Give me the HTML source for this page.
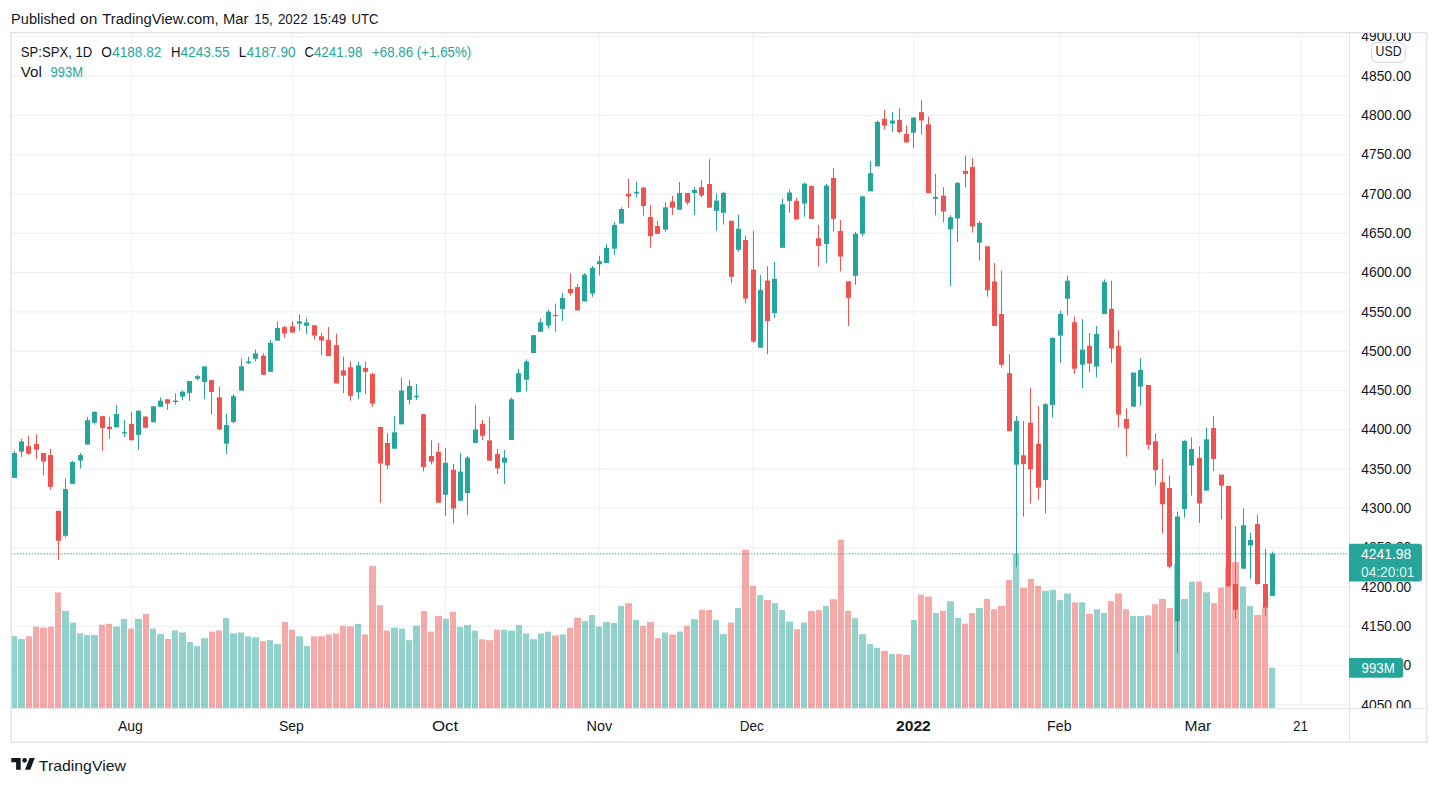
<!DOCTYPE html>
<html><head><meta charset="utf-8"><style>
html,body{margin:0;padding:0;background:#fff;width:1440px;height:786px;overflow:hidden}
body{font-family:"Liberation Sans",sans-serif;color:#131722}
svg{position:absolute;left:0;top:0;font-family:"Liberation Sans",sans-serif}
</style></head><body>
<svg width="1440" height="786" viewBox="0 0 1440 786">
<defs><clipPath id="pane"><rect x="11" y="33" width="1338" height="675"/></clipPath><clipPath id="axis"><rect x="1350" y="33" width="76" height="675"/></clipPath></defs><g clip-path="url(#pane)"><rect x="11" y="704.2" width="1338" height="1.4" fill="#f1f2f4"/><rect x="11" y="664.9" width="1338" height="1.4" fill="#f1f2f4"/><rect x="11" y="625.6" width="1338" height="1.4" fill="#f1f2f4"/><rect x="11" y="586.3" width="1338" height="1.4" fill="#f1f2f4"/><rect x="11" y="547" width="1338" height="1.4" fill="#f1f2f4"/><rect x="11" y="507.7" width="1338" height="1.4" fill="#f1f2f4"/><rect x="11" y="468.4" width="1338" height="1.4" fill="#f1f2f4"/><rect x="11" y="429.1" width="1338" height="1.4" fill="#f1f2f4"/><rect x="11" y="389.8" width="1338" height="1.4" fill="#f1f2f4"/><rect x="11" y="350.5" width="1338" height="1.4" fill="#f1f2f4"/><rect x="11" y="311.2" width="1338" height="1.4" fill="#f1f2f4"/><rect x="11" y="271.9" width="1338" height="1.4" fill="#f1f2f4"/><rect x="11" y="232.6" width="1338" height="1.4" fill="#f1f2f4"/><rect x="11" y="193.3" width="1338" height="1.4" fill="#f1f2f4"/><rect x="11" y="154" width="1338" height="1.4" fill="#f1f2f4"/><rect x="11" y="114.7" width="1338" height="1.4" fill="#f1f2f4"/><rect x="11" y="75.4" width="1338" height="1.4" fill="#f1f2f4"/><rect x="11" y="36.1" width="1338" height="1.4" fill="#f1f2f4"/><rect x="131" y="33" width="1" height="675" fill="#f1f2f4"/><rect x="291.9" y="33" width="1" height="675" fill="#f1f2f4"/><rect x="445" y="33" width="1" height="675" fill="#f1f2f4"/><rect x="599.1" y="33" width="1" height="675" fill="#f1f2f4"/><rect x="752.3" y="33" width="1" height="675" fill="#f1f2f4"/><rect x="913.1" y="33" width="1" height="675" fill="#f1f2f4"/><rect x="1059.5" y="33" width="1" height="675" fill="#f1f2f4"/><rect x="1199.1" y="33" width="1" height="675" fill="#f1f2f4"/><rect x="1301.1" y="33" width="1" height="675" fill="#f1f2f4"/><rect x="11" y="636.2" width="6" height="72.3" fill="rgba(38,166,154,0.5)"/><rect x="18" y="639" width="7" height="69.5" fill="rgba(38,166,154,0.5)"/><rect x="26" y="636.2" width="6" height="72.3" fill="rgba(239,83,80,0.5)"/><rect x="33" y="626.6" width="6" height="81.9" fill="rgba(239,83,80,0.5)"/><rect x="40" y="627.6" width="7" height="80.9" fill="rgba(239,83,80,0.5)"/><rect x="48" y="626.6" width="6" height="81.9" fill="rgba(239,83,80,0.5)"/><rect x="55" y="592.4" width="6" height="116.1" fill="rgba(239,83,80,0.5)"/><rect x="62" y="610.9" width="7" height="97.6" fill="rgba(38,166,154,0.5)"/><rect x="70" y="622.7" width="6" height="85.8" fill="rgba(38,166,154,0.5)"/><rect x="77" y="633.3" width="6" height="75.2" fill="rgba(38,166,154,0.5)"/><rect x="84" y="635.1" width="6" height="73.4" fill="rgba(38,166,154,0.5)"/><rect x="91" y="635.1" width="7" height="73.4" fill="rgba(38,166,154,0.5)"/><rect x="99" y="624.7" width="6" height="83.8" fill="rgba(239,83,80,0.5)"/><rect x="106" y="623.8" width="6" height="84.7" fill="rgba(239,83,80,0.5)"/><rect x="113" y="626.6" width="7" height="81.9" fill="rgba(38,166,154,0.5)"/><rect x="121" y="618.9" width="6" height="89.6" fill="rgba(38,166,154,0.5)"/><rect x="128" y="628.5" width="6" height="80" fill="rgba(239,83,80,0.5)"/><rect x="135" y="618.9" width="7" height="89.6" fill="rgba(38,166,154,0.5)"/><rect x="143" y="613.9" width="6" height="94.6" fill="rgba(239,83,80,0.5)"/><rect x="150" y="628.5" width="6" height="80" fill="rgba(38,166,154,0.5)"/><rect x="157" y="634.1" width="7" height="74.4" fill="rgba(38,166,154,0.5)"/><rect x="165" y="639" width="6" height="69.5" fill="rgba(239,83,80,0.5)"/><rect x="172" y="630.4" width="6" height="78.1" fill="rgba(38,166,154,0.5)"/><rect x="179" y="632.4" width="7" height="76.1" fill="rgba(38,166,154,0.5)"/><rect x="187" y="642" width="6" height="66.5" fill="rgba(38,166,154,0.5)"/><rect x="194" y="646.2" width="6" height="62.3" fill="rgba(38,166,154,0.5)"/><rect x="201" y="638.2" width="7" height="70.3" fill="rgba(38,166,154,0.5)"/><rect x="209" y="631.6" width="6" height="76.9" fill="rgba(239,83,80,0.5)"/><rect x="216" y="630.4" width="6" height="78.1" fill="rgba(239,83,80,0.5)"/><rect x="223" y="618" width="6" height="90.5" fill="rgba(38,166,154,0.5)"/><rect x="230" y="633.3" width="7" height="75.2" fill="rgba(38,166,154,0.5)"/><rect x="238" y="632.5" width="6" height="76" fill="rgba(38,166,154,0.5)"/><rect x="245" y="636.3" width="6" height="72.2" fill="rgba(38,166,154,0.5)"/><rect x="252" y="637.3" width="7" height="71.2" fill="rgba(38,166,154,0.5)"/><rect x="260" y="641.1" width="6" height="67.4" fill="rgba(239,83,80,0.5)"/><rect x="267" y="640.2" width="6" height="68.3" fill="rgba(38,166,154,0.5)"/><rect x="274" y="644" width="7" height="64.5" fill="rgba(38,166,154,0.5)"/><rect x="282" y="622" width="6" height="86.5" fill="rgba(239,83,80,0.5)"/><rect x="289" y="629.7" width="6" height="78.8" fill="rgba(239,83,80,0.5)"/><rect x="296" y="636.3" width="7" height="72.2" fill="rgba(38,166,154,0.5)"/><rect x="304" y="645.9" width="6" height="62.6" fill="rgba(38,166,154,0.5)"/><rect x="311" y="636.3" width="6" height="72.2" fill="rgba(239,83,80,0.5)"/><rect x="318" y="636.3" width="7" height="72.2" fill="rgba(239,83,80,0.5)"/><rect x="326" y="634.4" width="6" height="74.1" fill="rgba(239,83,80,0.5)"/><rect x="333" y="633.5" width="6" height="75" fill="rgba(239,83,80,0.5)"/><rect x="340" y="625.8" width="6" height="82.7" fill="rgba(239,83,80,0.5)"/><rect x="347" y="626.4" width="7" height="82.1" fill="rgba(239,83,80,0.5)"/><rect x="355" y="623.9" width="6" height="84.6" fill="rgba(38,166,154,0.5)"/><rect x="362" y="634.4" width="6" height="74.1" fill="rgba(239,83,80,0.5)"/><rect x="369" y="566.1" width="7" height="142.4" fill="rgba(239,83,80,0.5)"/><rect x="377" y="605.2" width="6" height="103.3" fill="rgba(239,83,80,0.5)"/><rect x="384" y="630.6" width="6" height="77.9" fill="rgba(239,83,80,0.5)"/><rect x="391" y="627.7" width="7" height="80.8" fill="rgba(38,166,154,0.5)"/><rect x="399" y="628.7" width="6" height="79.8" fill="rgba(38,166,154,0.5)"/><rect x="406" y="640.2" width="6" height="68.3" fill="rgba(38,166,154,0.5)"/><rect x="413" y="625.8" width="7" height="82.7" fill="rgba(38,166,154,0.5)"/><rect x="421" y="611.1" width="6" height="97.4" fill="rgba(239,83,80,0.5)"/><rect x="428" y="631.6" width="6" height="76.9" fill="rgba(239,83,80,0.5)"/><rect x="435" y="615.9" width="7" height="92.6" fill="rgba(239,83,80,0.5)"/><rect x="443" y="618.8" width="6" height="89.7" fill="rgba(38,166,154,0.5)"/><rect x="450" y="611.9" width="6" height="96.6" fill="rgba(239,83,80,0.5)"/><rect x="457" y="626.8" width="6" height="81.7" fill="rgba(38,166,154,0.5)"/><rect x="464" y="624.9" width="7" height="83.6" fill="rgba(38,166,154,0.5)"/><rect x="472" y="630.6" width="6" height="77.9" fill="rgba(38,166,154,0.5)"/><rect x="479" y="639.2" width="6" height="69.3" fill="rgba(239,83,80,0.5)"/><rect x="486" y="640.2" width="7" height="68.3" fill="rgba(239,83,80,0.5)"/><rect x="494" y="629.7" width="6" height="78.8" fill="rgba(239,83,80,0.5)"/><rect x="501" y="629.7" width="6" height="78.8" fill="rgba(38,166,154,0.5)"/><rect x="508" y="630.6" width="7" height="77.9" fill="rgba(38,166,154,0.5)"/><rect x="516" y="624.9" width="6" height="83.6" fill="rgba(38,166,154,0.5)"/><rect x="523" y="633.5" width="6" height="75" fill="rgba(38,166,154,0.5)"/><rect x="530" y="639.2" width="7" height="69.3" fill="rgba(38,166,154,0.5)"/><rect x="538" y="633.5" width="6" height="75" fill="rgba(38,166,154,0.5)"/><rect x="545" y="631.6" width="6" height="76.9" fill="rgba(38,166,154,0.5)"/><rect x="552" y="635.4" width="7" height="73.1" fill="rgba(239,83,80,0.5)"/><rect x="560" y="634.4" width="6" height="74.1" fill="rgba(38,166,154,0.5)"/><rect x="567" y="627.7" width="6" height="80.8" fill="rgba(239,83,80,0.5)"/><rect x="574" y="617.8" width="7" height="90.7" fill="rgba(239,83,80,0.5)"/><rect x="582" y="621.1" width="6" height="87.4" fill="rgba(38,166,154,0.5)"/><rect x="589" y="615" width="6" height="93.5" fill="rgba(38,166,154,0.5)"/><rect x="596" y="626.4" width="6" height="82.1" fill="rgba(38,166,154,0.5)"/><rect x="603" y="622" width="7" height="86.5" fill="rgba(38,166,154,0.5)"/><rect x="611" y="623" width="6" height="85.5" fill="rgba(38,166,154,0.5)"/><rect x="618" y="605.8" width="6" height="102.7" fill="rgba(38,166,154,0.5)"/><rect x="625" y="603.3" width="7" height="105.2" fill="rgba(239,83,80,0.5)"/><rect x="633" y="620.1" width="6" height="88.4" fill="rgba(38,166,154,0.5)"/><rect x="640" y="625.8" width="6" height="82.7" fill="rgba(239,83,80,0.5)"/><rect x="647" y="622" width="7" height="86.5" fill="rgba(239,83,80,0.5)"/><rect x="655" y="638.2" width="6" height="70.3" fill="rgba(239,83,80,0.5)"/><rect x="662" y="632.5" width="6" height="76" fill="rgba(38,166,154,0.5)"/><rect x="669" y="634.4" width="7" height="74.1" fill="rgba(239,83,80,0.5)"/><rect x="677" y="631.6" width="6" height="76.9" fill="rgba(38,166,154,0.5)"/><rect x="684" y="625.8" width="6" height="82.7" fill="rgba(239,83,80,0.5)"/><rect x="691" y="619.2" width="7" height="89.3" fill="rgba(38,166,154,0.5)"/><rect x="699" y="609.9" width="6" height="98.6" fill="rgba(239,83,80,0.5)"/><rect x="706" y="609.9" width="6" height="98.6" fill="rgba(239,83,80,0.5)"/><rect x="713" y="620" width="6" height="88.5" fill="rgba(38,166,154,0.5)"/><rect x="720" y="634.1" width="7" height="74.4" fill="rgba(38,166,154,0.5)"/><rect x="728" y="622.6" width="6" height="85.9" fill="rgba(239,83,80,0.5)"/><rect x="735" y="608.1" width="6" height="100.4" fill="rgba(38,166,154,0.5)"/><rect x="742" y="549.7" width="7" height="158.8" fill="rgba(239,83,80,0.5)"/><rect x="750" y="585.8" width="6" height="122.7" fill="rgba(239,83,80,0.5)"/><rect x="757" y="595.1" width="6" height="113.4" fill="rgba(38,166,154,0.5)"/><rect x="764" y="600.1" width="7" height="108.4" fill="rgba(239,83,80,0.5)"/><rect x="772" y="603.1" width="6" height="105.4" fill="rgba(38,166,154,0.5)"/><rect x="779" y="609.9" width="6" height="98.6" fill="rgba(38,166,154,0.5)"/><rect x="786" y="621.7" width="7" height="86.8" fill="rgba(38,166,154,0.5)"/><rect x="794" y="629.3" width="6" height="79.2" fill="rgba(239,83,80,0.5)"/><rect x="801" y="622.6" width="6" height="85.9" fill="rgba(38,166,154,0.5)"/><rect x="808" y="610.9" width="7" height="97.6" fill="rgba(239,83,80,0.5)"/><rect x="816" y="610.1" width="6" height="98.4" fill="rgba(239,83,80,0.5)"/><rect x="823" y="606" width="6" height="102.5" fill="rgba(38,166,154,0.5)"/><rect x="830" y="599.2" width="7" height="109.3" fill="rgba(239,83,80,0.5)"/><rect x="838" y="539.6" width="6" height="168.9" fill="rgba(239,83,80,0.5)"/><rect x="845" y="610.8" width="6" height="97.7" fill="rgba(239,83,80,0.5)"/><rect x="852" y="618.2" width="6" height="90.3" fill="rgba(38,166,154,0.5)"/><rect x="859" y="634.2" width="7" height="74.3" fill="rgba(38,166,154,0.5)"/><rect x="867" y="644" width="6" height="64.5" fill="rgba(38,166,154,0.5)"/><rect x="874" y="647.9" width="6" height="60.6" fill="rgba(38,166,154,0.5)"/><rect x="881" y="650.9" width="7" height="57.6" fill="rgba(239,83,80,0.5)"/><rect x="889" y="654.1" width="6" height="54.4" fill="rgba(38,166,154,0.5)"/><rect x="896" y="654.1" width="6" height="54.4" fill="rgba(239,83,80,0.5)"/><rect x="903" y="654.8" width="7" height="53.7" fill="rgba(239,83,80,0.5)"/><rect x="911" y="620" width="6" height="88.5" fill="rgba(38,166,154,0.5)"/><rect x="918" y="594.6" width="6" height="113.9" fill="rgba(239,83,80,0.5)"/><rect x="925" y="596.6" width="7" height="111.9" fill="rgba(239,83,80,0.5)"/><rect x="933" y="613.1" width="6" height="95.4" fill="rgba(38,166,154,0.5)"/><rect x="940" y="610.9" width="6" height="97.6" fill="rgba(239,83,80,0.5)"/><rect x="947" y="601.2" width="7" height="107.3" fill="rgba(38,166,154,0.5)"/><rect x="955" y="617.9" width="6" height="90.6" fill="rgba(38,166,154,0.5)"/><rect x="962" y="623.7" width="6" height="84.8" fill="rgba(239,83,80,0.5)"/><rect x="969" y="613.1" width="6" height="95.4" fill="rgba(239,83,80,0.5)"/><rect x="976" y="608.1" width="7" height="100.4" fill="rgba(38,166,154,0.5)"/><rect x="984" y="599" width="6" height="109.5" fill="rgba(239,83,80,0.5)"/><rect x="991" y="609.2" width="6" height="99.3" fill="rgba(239,83,80,0.5)"/><rect x="998" y="606" width="7" height="102.5" fill="rgba(239,83,80,0.5)"/><rect x="1006" y="580" width="6" height="128.5" fill="rgba(239,83,80,0.5)"/><rect x="1013" y="554" width="6" height="154.5" fill="rgba(38,166,154,0.5)"/><rect x="1020" y="587.6" width="7" height="120.9" fill="rgba(239,83,80,0.5)"/><rect x="1028" y="578.9" width="6" height="129.6" fill="rgba(239,83,80,0.5)"/><rect x="1035" y="585.8" width="6" height="122.7" fill="rgba(239,83,80,0.5)"/><rect x="1042" y="590.8" width="7" height="117.7" fill="rgba(38,166,154,0.5)"/><rect x="1050" y="589.7" width="6" height="118.8" fill="rgba(38,166,154,0.5)"/><rect x="1057" y="600.1" width="6" height="108.4" fill="rgba(38,166,154,0.5)"/><rect x="1064" y="593.4" width="7" height="115.1" fill="rgba(38,166,154,0.5)"/><rect x="1072" y="602.3" width="6" height="106.2" fill="rgba(239,83,80,0.5)"/><rect x="1079" y="602.3" width="6" height="106.2" fill="rgba(38,166,154,0.5)"/><rect x="1086" y="614" width="7" height="94.5" fill="rgba(239,83,80,0.5)"/><rect x="1094" y="609.2" width="6" height="99.3" fill="rgba(38,166,154,0.5)"/><rect x="1101" y="613.1" width="6" height="95.4" fill="rgba(38,166,154,0.5)"/><rect x="1108" y="601.2" width="6" height="107.3" fill="rgba(239,83,80,0.5)"/><rect x="1115" y="593.4" width="7" height="115.1" fill="rgba(239,83,80,0.5)"/><rect x="1123" y="609.2" width="6" height="99.3" fill="rgba(239,83,80,0.5)"/><rect x="1130" y="616.1" width="6" height="92.4" fill="rgba(38,166,154,0.5)"/><rect x="1137" y="616.1" width="7" height="92.4" fill="rgba(38,166,154,0.5)"/><rect x="1145" y="615.3" width="6" height="93.2" fill="rgba(239,83,80,0.5)"/><rect x="1152" y="604.2" width="6" height="104.3" fill="rgba(239,83,80,0.5)"/><rect x="1159" y="599" width="7" height="109.5" fill="rgba(239,83,80,0.5)"/><rect x="1167" y="608.1" width="6" height="100.4" fill="rgba(239,83,80,0.5)"/><rect x="1174" y="564.2" width="6" height="144.3" fill="rgba(38,166,154,0.5)"/><rect x="1181" y="599" width="7" height="109.5" fill="rgba(38,166,154,0.5)"/><rect x="1189" y="581.7" width="6" height="126.8" fill="rgba(38,166,154,0.5)"/><rect x="1196" y="581.7" width="6" height="126.8" fill="rgba(239,83,80,0.5)"/><rect x="1203" y="592.3" width="7" height="116.2" fill="rgba(38,166,154,0.5)"/><rect x="1211" y="603.1" width="6" height="105.4" fill="rgba(239,83,80,0.5)"/><rect x="1218" y="587.6" width="6" height="120.9" fill="rgba(239,83,80,0.5)"/><rect x="1225" y="567" width="6" height="141.5" fill="rgba(239,83,80,0.5)"/><rect x="1232" y="562.1" width="7" height="146.4" fill="rgba(239,83,80,0.5)"/><rect x="1240" y="586.5" width="6" height="122" fill="rgba(38,166,154,0.5)"/><rect x="1247" y="606" width="6" height="102.5" fill="rgba(38,166,154,0.5)"/><rect x="1254" y="615" width="7" height="93.5" fill="rgba(239,83,80,0.5)"/><rect x="1262" y="607" width="6" height="101.5" fill="rgba(239,83,80,0.5)"/><rect x="1269" y="667.6" width="6" height="40.9" fill="rgba(38,166,154,0.5)"/><line x1="11" y1="553.8" x2="1349" y2="553.8" stroke="#26a69a" stroke-opacity="0.6" stroke-width="1.6" stroke-dasharray="1.5 1.46"/><rect x="14" y="451.2" width="1" height="26.7" fill="#26a69a"/><rect x="12" y="453" width="5" height="24.9" fill="#26a69a"/><rect x="21" y="438.7" width="1" height="18.2" fill="#26a69a"/><rect x="19" y="441.4" width="5" height="10.3" fill="#26a69a"/><rect x="28" y="435.5" width="1" height="19.2" fill="#ef5350"/><rect x="26" y="446.2" width="5" height="7.6" fill="#ef5350"/><rect x="36" y="434.3" width="1" height="24.4" fill="#ef5350"/><rect x="34" y="444" width="5" height="5.7" fill="#ef5350"/><rect x="43" y="453" width="1" height="22.2" fill="#ef5350"/><rect x="41" y="453" width="5" height="8.5" fill="#ef5350"/><rect x="50" y="448.9" width="1" height="40.9" fill="#ef5350"/><rect x="48" y="455.1" width="5" height="31.7" fill="#ef5350"/><rect x="58" y="510.8" width="1" height="49.3" fill="#ef5350"/><rect x="56" y="510.8" width="5" height="30" fill="#ef5350"/><rect x="65" y="478.4" width="1" height="59.2" fill="#26a69a"/><rect x="63" y="489.1" width="5" height="46.7" fill="#26a69a"/><rect x="72" y="461" width="1" height="22.8" fill="#26a69a"/><rect x="70" y="461.9" width="5" height="21.9" fill="#26a69a"/><rect x="80" y="453" width="1" height="15.4" fill="#26a69a"/><rect x="78" y="455.1" width="5" height="5.5" fill="#26a69a"/><rect x="87" y="417" width="1" height="27.6" fill="#26a69a"/><rect x="85" y="420.2" width="5" height="24.4" fill="#26a69a"/><rect x="94" y="411.1" width="1" height="13.4" fill="#26a69a"/><rect x="92" y="412" width="5" height="10.7" fill="#26a69a"/><rect x="102" y="416.1" width="1" height="34.7" fill="#ef5350"/><rect x="100" y="416.1" width="5" height="11.9" fill="#ef5350"/><rect x="109" y="417" width="1" height="21.9" fill="#ef5350"/><rect x="107" y="426.8" width="5" height="2.3" fill="#ef5350"/><rect x="116" y="405" width="1" height="22.3" fill="#26a69a"/><rect x="114" y="414" width="5" height="13.3" fill="#26a69a"/><rect x="124" y="420" width="1" height="17" fill="#26a69a"/><rect x="122" y="432.1" width="5" height="1.3" fill="#26a69a"/><rect x="131" y="412" width="1" height="28.5" fill="#ef5350"/><rect x="129" y="423.8" width="5" height="16.4" fill="#ef5350"/><rect x="138" y="410.4" width="1" height="39.6" fill="#26a69a"/><rect x="136" y="410.8" width="5" height="24" fill="#26a69a"/><rect x="145" y="416.1" width="1" height="12.5" fill="#ef5350"/><rect x="143" y="416.6" width="5" height="11.1" fill="#ef5350"/><rect x="153" y="406" width="1" height="16.3" fill="#26a69a"/><rect x="151" y="406.3" width="5" height="16" fill="#26a69a"/><rect x="160" y="397.4" width="1" height="9.4" fill="#26a69a"/><rect x="158" y="400.6" width="5" height="6.2" fill="#26a69a"/><rect x="167" y="398.8" width="1" height="11" fill="#ef5350"/><rect x="165" y="399.3" width="5" height="4.3" fill="#ef5350"/><rect x="175" y="393.4" width="1" height="11.3" fill="#26a69a"/><rect x="173" y="400.6" width="5" height="1.4" fill="#26a69a"/><rect x="182" y="390.4" width="1" height="9.8" fill="#26a69a"/><rect x="180" y="391.7" width="5" height="4.9" fill="#26a69a"/><rect x="189" y="381" width="1" height="19.9" fill="#26a69a"/><rect x="187" y="381" width="5" height="11.9" fill="#26a69a"/><rect x="197" y="375.1" width="1" height="5.5" fill="#26a69a"/><rect x="195" y="376.2" width="5" height="2.5" fill="#26a69a"/><rect x="204" y="366.4" width="1" height="32.7" fill="#26a69a"/><rect x="202" y="366.4" width="5" height="15.5" fill="#26a69a"/><rect x="211" y="380.1" width="1" height="34.7" fill="#ef5350"/><rect x="209" y="380.1" width="5" height="11.9" fill="#ef5350"/><rect x="219" y="386.7" width="1" height="43.3" fill="#ef5350"/><rect x="217" y="397.4" width="5" height="32" fill="#ef5350"/><rect x="226" y="413.9" width="1" height="40.1" fill="#26a69a"/><rect x="224" y="425.1" width="5" height="18.6" fill="#26a69a"/><rect x="233" y="394.2" width="1" height="29.1" fill="#26a69a"/><rect x="231" y="396.2" width="5" height="25.8" fill="#26a69a"/><rect x="241" y="358.4" width="1" height="32.1" fill="#26a69a"/><rect x="239" y="366.3" width="5" height="24.2" fill="#26a69a"/><rect x="248" y="356.6" width="1" height="7.5" fill="#26a69a"/><rect x="246" y="361.5" width="5" height="1.7" fill="#26a69a"/><rect x="255" y="349.5" width="1" height="12" fill="#26a69a"/><rect x="253" y="353.4" width="5" height="5.4" fill="#26a69a"/><rect x="263" y="353.4" width="1" height="21.4" fill="#ef5350"/><rect x="261" y="355.6" width="5" height="19.2" fill="#ef5350"/><rect x="270" y="340.1" width="1" height="31.7" fill="#26a69a"/><rect x="268" y="342.8" width="5" height="29" fill="#26a69a"/><rect x="277" y="321.4" width="1" height="19.2" fill="#26a69a"/><rect x="275" y="328.1" width="5" height="12.5" fill="#26a69a"/><rect x="284" y="325.8" width="1" height="12" fill="#ef5350"/><rect x="282" y="327.1" width="5" height="6.4" fill="#ef5350"/><rect x="292" y="321.4" width="1" height="11.2" fill="#ef5350"/><rect x="290" y="326.4" width="5" height="6.2" fill="#ef5350"/><rect x="299" y="314.6" width="1" height="16" fill="#26a69a"/><rect x="297" y="321.4" width="5" height="2.3" fill="#26a69a"/><rect x="306" y="318.2" width="1" height="15.6" fill="#26a69a"/><rect x="304" y="322.5" width="5" height="3.3" fill="#26a69a"/><rect x="314" y="325.3" width="1" height="14.2" fill="#ef5350"/><rect x="312" y="325.3" width="5" height="10.3" fill="#ef5350"/><rect x="321" y="333" width="1" height="22.2" fill="#ef5350"/><rect x="319" y="336.2" width="5" height="4.4" fill="#ef5350"/><rect x="328" y="327.1" width="1" height="29" fill="#ef5350"/><rect x="326" y="340.1" width="5" height="16" fill="#ef5350"/><rect x="336" y="333.8" width="1" height="49.6" fill="#ef5350"/><rect x="334" y="345.1" width="5" height="38.3" fill="#ef5350"/><rect x="343" y="356.6" width="1" height="36.4" fill="#ef5350"/><rect x="341" y="370.4" width="5" height="5.3" fill="#ef5350"/><rect x="350" y="361.5" width="1" height="39.1" fill="#ef5350"/><rect x="348" y="367.3" width="5" height="28.5" fill="#ef5350"/><rect x="358" y="361.5" width="1" height="37.4" fill="#26a69a"/><rect x="356" y="365.4" width="5" height="26.9" fill="#26a69a"/><rect x="365" y="361.5" width="1" height="32.5" fill="#ef5350"/><rect x="363" y="368" width="5" height="3.8" fill="#ef5350"/><rect x="372" y="373" width="1" height="33.9" fill="#ef5350"/><rect x="370" y="373.9" width="5" height="29.8" fill="#ef5350"/><rect x="380" y="426.8" width="1" height="75.9" fill="#ef5350"/><rect x="378" y="427" width="5" height="36.5" fill="#ef5350"/><rect x="387" y="433.2" width="1" height="35.7" fill="#ef5350"/><rect x="385" y="443" width="5" height="22.3" fill="#ef5350"/><rect x="394" y="416" width="1" height="32.7" fill="#26a69a"/><rect x="392" y="432.3" width="5" height="16.4" fill="#26a69a"/><rect x="401" y="378" width="1" height="46.3" fill="#26a69a"/><rect x="399" y="390.5" width="5" height="33.8" fill="#26a69a"/><rect x="409" y="379.8" width="1" height="24.9" fill="#26a69a"/><rect x="407" y="386" width="5" height="13.9" fill="#26a69a"/><rect x="416" y="383.9" width="1" height="16" fill="#26a69a"/><rect x="414" y="395.8" width="5" height="1.3" fill="#26a69a"/><rect x="423" y="414.2" width="1" height="57" fill="#ef5350"/><rect x="421" y="414.2" width="5" height="52.9" fill="#ef5350"/><rect x="431" y="440.4" width="1" height="24" fill="#ef5350"/><rect x="429" y="456" width="5" height="5.7" fill="#ef5350"/><rect x="438" y="443" width="1" height="59.7" fill="#ef5350"/><rect x="436" y="451.9" width="5" height="50.8" fill="#ef5350"/><rect x="445" y="448.1" width="1" height="68" fill="#26a69a"/><rect x="443" y="462.8" width="5" height="31.9" fill="#26a69a"/><rect x="453" y="463.9" width="1" height="59.7" fill="#ef5350"/><rect x="451" y="469.8" width="5" height="38.7" fill="#ef5350"/><rect x="460" y="453.2" width="1" height="47.6" fill="#26a69a"/><rect x="458" y="471.6" width="5" height="29.2" fill="#26a69a"/><rect x="467" y="455.9" width="1" height="59.1" fill="#26a69a"/><rect x="465" y="457.7" width="5" height="35.3" fill="#26a69a"/><rect x="475" y="405.1" width="1" height="37.8" fill="#26a69a"/><rect x="473" y="429.5" width="5" height="13.4" fill="#26a69a"/><rect x="482" y="419.9" width="1" height="20" fill="#ef5350"/><rect x="480" y="423.8" width="5" height="12" fill="#ef5350"/><rect x="489" y="417.1" width="1" height="43.6" fill="#ef5350"/><rect x="487" y="440.4" width="5" height="20.3" fill="#ef5350"/><rect x="497" y="449.1" width="1" height="25" fill="#ef5350"/><rect x="495" y="454.1" width="5" height="14.3" fill="#ef5350"/><rect x="504" y="450.2" width="1" height="33.7" fill="#26a69a"/><rect x="502" y="457.7" width="5" height="5" fill="#26a69a"/><rect x="511" y="397.5" width="1" height="42.4" fill="#26a69a"/><rect x="509" y="399.3" width="5" height="40.6" fill="#26a69a"/><rect x="518" y="369" width="1" height="23.2" fill="#26a69a"/><rect x="516" y="373.1" width="5" height="19.1" fill="#26a69a"/><rect x="526" y="359.4" width="1" height="32.1" fill="#26a69a"/><rect x="524" y="361.5" width="5" height="18.2" fill="#26a69a"/><rect x="533" y="335.2" width="1" height="17.8" fill="#26a69a"/><rect x="531" y="335.2" width="5" height="17.8" fill="#26a69a"/><rect x="540" y="318.4" width="1" height="13.4" fill="#26a69a"/><rect x="538" y="322.3" width="5" height="9.5" fill="#26a69a"/><rect x="548" y="309.5" width="1" height="19.1" fill="#26a69a"/><rect x="546" y="311.7" width="5" height="13.9" fill="#26a69a"/><rect x="555" y="303.6" width="1" height="28.2" fill="#ef5350"/><rect x="553" y="314.9" width="5" height="1.2" fill="#ef5350"/><rect x="562" y="293" width="1" height="27.9" fill="#26a69a"/><rect x="560" y="297.9" width="5" height="11.1" fill="#26a69a"/><rect x="570" y="273.4" width="1" height="22.2" fill="#ef5350"/><rect x="568" y="289" width="5" height="4" fill="#ef5350"/><rect x="577" y="284" width="1" height="26.4" fill="#ef5350"/><rect x="575" y="287.1" width="5" height="23.3" fill="#ef5350"/><rect x="584" y="273.1" width="1" height="28.4" fill="#26a69a"/><rect x="582" y="274.6" width="5" height="26.9" fill="#26a69a"/><rect x="592" y="266" width="1" height="30.8" fill="#26a69a"/><rect x="590" y="267.8" width="5" height="25.8" fill="#26a69a"/><rect x="599" y="255.8" width="1" height="19.6" fill="#26a69a"/><rect x="597" y="261.2" width="5" height="3" fill="#26a69a"/><rect x="606" y="244.1" width="1" height="18.9" fill="#26a69a"/><rect x="604" y="247.8" width="5" height="15.2" fill="#26a69a"/><rect x="614" y="222" width="1" height="32.8" fill="#26a69a"/><rect x="612" y="225" width="5" height="23.7" fill="#26a69a"/><rect x="621" y="207.2" width="1" height="16.4" fill="#26a69a"/><rect x="619" y="209" width="5" height="14.6" fill="#26a69a"/><rect x="628" y="178.7" width="1" height="29" fill="#ef5350"/><rect x="626" y="193.8" width="5" height="2.7" fill="#ef5350"/><rect x="636" y="181.7" width="1" height="15.7" fill="#26a69a"/><rect x="634" y="191.7" width="5" height="1.8" fill="#26a69a"/><rect x="643" y="186.7" width="1" height="28.9" fill="#ef5350"/><rect x="641" y="187.6" width="5" height="18.4" fill="#ef5350"/><rect x="650" y="204.9" width="1" height="42.8" fill="#ef5350"/><rect x="648" y="217" width="5" height="19.2" fill="#ef5350"/><rect x="657" y="221" width="1" height="13" fill="#ef5350"/><rect x="655" y="226" width="5" height="8" fill="#ef5350"/><rect x="665" y="202.3" width="1" height="29.4" fill="#26a69a"/><rect x="663" y="207.3" width="5" height="22.3" fill="#26a69a"/><rect x="672" y="195.8" width="1" height="19" fill="#ef5350"/><rect x="670" y="201.5" width="5" height="6.2" fill="#ef5350"/><rect x="679" y="181.9" width="1" height="27.9" fill="#26a69a"/><rect x="677" y="192.9" width="5" height="16.9" fill="#26a69a"/><rect x="687" y="192.9" width="1" height="12.1" fill="#ef5350"/><rect x="685" y="192.9" width="5" height="9.8" fill="#ef5350"/><rect x="694" y="187.2" width="1" height="27.6" fill="#26a69a"/><rect x="692" y="189.9" width="5" height="3.2" fill="#26a69a"/><rect x="701" y="180.1" width="1" height="17.3" fill="#ef5350"/><rect x="699" y="187.2" width="5" height="8.4" fill="#ef5350"/><rect x="709" y="159.2" width="1" height="48.5" fill="#ef5350"/><rect x="707" y="184" width="5" height="23.7" fill="#ef5350"/><rect x="716" y="193.4" width="1" height="37.1" fill="#26a69a"/><rect x="714" y="200.6" width="5" height="10.3" fill="#26a69a"/><rect x="723" y="191.7" width="1" height="32.8" fill="#26a69a"/><rect x="721" y="192.8" width="5" height="20" fill="#26a69a"/><rect x="731" y="220.8" width="1" height="62.3" fill="#ef5350"/><rect x="729" y="220.8" width="5" height="56" fill="#ef5350"/><rect x="738" y="214.7" width="1" height="37" fill="#26a69a"/><rect x="736" y="228.7" width="5" height="21.1" fill="#26a69a"/><rect x="745" y="235.3" width="1" height="68.1" fill="#ef5350"/><rect x="743" y="240.1" width="5" height="58.5" fill="#ef5350"/><rect x="753" y="230.9" width="1" height="111.9" fill="#ef5350"/><rect x="751" y="269.6" width="5" height="72" fill="#ef5350"/><rect x="760" y="275.1" width="1" height="72.6" fill="#26a69a"/><rect x="758" y="290.1" width="5" height="57.6" fill="#26a69a"/><rect x="767" y="266.2" width="1" height="88" fill="#ef5350"/><rect x="765" y="280.5" width="5" height="40.6" fill="#ef5350"/><rect x="774" y="261.9" width="1" height="56.1" fill="#26a69a"/><rect x="772" y="278.8" width="5" height="34.3" fill="#26a69a"/><rect x="782" y="198.5" width="1" height="49.3" fill="#26a69a"/><rect x="780" y="204.3" width="5" height="43.5" fill="#26a69a"/><rect x="789" y="189.5" width="1" height="23.3" fill="#26a69a"/><rect x="787" y="192.5" width="5" height="8.4" fill="#26a69a"/><rect x="796" y="197.8" width="1" height="21.7" fill="#ef5350"/><rect x="794" y="200.8" width="5" height="18.7" fill="#ef5350"/><rect x="804" y="182.4" width="1" height="34.4" fill="#26a69a"/><rect x="802" y="183.6" width="5" height="19.9" fill="#26a69a"/><rect x="811" y="185.9" width="1" height="33" fill="#ef5350"/><rect x="809" y="185.9" width="5" height="33" fill="#ef5350"/><rect x="818" y="224.8" width="1" height="41.7" fill="#ef5350"/><rect x="816" y="238.3" width="5" height="7.6" fill="#ef5350"/><rect x="826" y="184" width="1" height="79" fill="#26a69a"/><rect x="824" y="185.6" width="5" height="58.4" fill="#26a69a"/><rect x="833" y="168" width="1" height="63.4" fill="#ef5350"/><rect x="831" y="177.9" width="5" height="41" fill="#ef5350"/><rect x="840" y="220" width="1" height="51.5" fill="#ef5350"/><rect x="838" y="231" width="5" height="25.6" fill="#ef5350"/><rect x="848" y="281.4" width="1" height="44.6" fill="#ef5350"/><rect x="846" y="281.4" width="5" height="16.5" fill="#ef5350"/><rect x="855" y="232" width="1" height="52.7" fill="#26a69a"/><rect x="853" y="233.8" width="5" height="42" fill="#26a69a"/><rect x="862" y="195.6" width="1" height="40.7" fill="#26a69a"/><rect x="860" y="196.4" width="5" height="37.4" fill="#26a69a"/><rect x="870" y="161.2" width="1" height="30.1" fill="#26a69a"/><rect x="868" y="173.2" width="5" height="18.1" fill="#26a69a"/><rect x="877" y="120.5" width="1" height="45.8" fill="#26a69a"/><rect x="875" y="121.8" width="5" height="44.5" fill="#26a69a"/><rect x="884" y="109.8" width="1" height="19.6" fill="#ef5350"/><rect x="882" y="118.8" width="5" height="6.8" fill="#ef5350"/><rect x="892" y="112.1" width="1" height="19.9" fill="#26a69a"/><rect x="890" y="120.5" width="5" height="3.1" fill="#26a69a"/><rect x="899" y="108.3" width="1" height="25.5" fill="#ef5350"/><rect x="897" y="119.8" width="5" height="12.2" fill="#ef5350"/><rect x="906" y="125.6" width="1" height="16.9" fill="#ef5350"/><rect x="904" y="134" width="5" height="8.5" fill="#ef5350"/><rect x="913" y="117.5" width="1" height="30.5" fill="#26a69a"/><rect x="911" y="117.5" width="5" height="15.2" fill="#26a69a"/><rect x="921" y="100.2" width="1" height="34.3" fill="#ef5350"/><rect x="919" y="112.1" width="5" height="8.4" fill="#ef5350"/><rect x="928" y="116.7" width="1" height="76.4" fill="#ef5350"/><rect x="926" y="124.4" width="5" height="68.7" fill="#ef5350"/><rect x="935" y="174" width="1" height="41.4" fill="#26a69a"/><rect x="933" y="196.9" width="5" height="2" fill="#26a69a"/><rect x="943" y="187.2" width="1" height="35.1" fill="#ef5350"/><rect x="941" y="195.6" width="5" height="16" fill="#ef5350"/><rect x="950" y="215.2" width="1" height="70.7" fill="#26a69a"/><rect x="948" y="217.2" width="5" height="12.2" fill="#26a69a"/><rect x="957" y="182.1" width="1" height="60.1" fill="#26a69a"/><rect x="955" y="182.9" width="5" height="35.6" fill="#26a69a"/><rect x="965" y="155.6" width="1" height="31.6" fill="#ef5350"/><rect x="963" y="170.9" width="5" height="3.1" fill="#ef5350"/><rect x="972" y="158.2" width="1" height="74.3" fill="#ef5350"/><rect x="970" y="167.1" width="5" height="59.4" fill="#ef5350"/><rect x="979" y="220.9" width="1" height="39.7" fill="#26a69a"/><rect x="977" y="222.9" width="5" height="19.8" fill="#26a69a"/><rect x="987" y="246.3" width="1" height="50.4" fill="#ef5350"/><rect x="985" y="246.3" width="5" height="44" fill="#ef5350"/><rect x="994" y="263.1" width="1" height="62.9" fill="#ef5350"/><rect x="992" y="281.4" width="5" height="44.6" fill="#ef5350"/><rect x="1001" y="270.7" width="1" height="97" fill="#ef5350"/><rect x="999" y="314" width="5" height="50.8" fill="#ef5350"/><rect x="1009" y="354.2" width="1" height="77.4" fill="#ef5350"/><rect x="1007" y="373.1" width="5" height="58" fill="#ef5350"/><rect x="1016" y="415.8" width="1" height="151.6" fill="#26a69a"/><rect x="1014" y="420.9" width="5" height="43.8" fill="#26a69a"/><rect x="1023" y="420.9" width="1" height="95.7" fill="#ef5350"/><rect x="1021" y="455.3" width="5" height="8.9" fill="#ef5350"/><rect x="1030" y="387.8" width="1" height="115.8" fill="#ef5350"/><rect x="1028" y="422.7" width="5" height="46.6" fill="#ef5350"/><rect x="1038" y="406.2" width="1" height="93.6" fill="#ef5350"/><rect x="1036" y="443.8" width="5" height="43.8" fill="#ef5350"/><rect x="1045" y="403.1" width="1" height="110.4" fill="#26a69a"/><rect x="1043" y="404.2" width="5" height="75.8" fill="#26a69a"/><rect x="1052" y="337.4" width="1" height="80.2" fill="#26a69a"/><rect x="1050" y="337.9" width="5" height="67" fill="#26a69a"/><rect x="1060" y="310.7" width="1" height="52.2" fill="#26a69a"/><rect x="1058" y="313.8" width="5" height="21.8" fill="#26a69a"/><rect x="1067" y="275.6" width="1" height="39.7" fill="#26a69a"/><rect x="1065" y="280.7" width="5" height="18.1" fill="#26a69a"/><rect x="1074" y="316.6" width="1" height="57.2" fill="#ef5350"/><rect x="1072" y="322.2" width="5" height="46.5" fill="#ef5350"/><rect x="1082" y="319.1" width="1" height="69.2" fill="#26a69a"/><rect x="1080" y="349.6" width="5" height="15.1" fill="#26a69a"/><rect x="1089" y="333.1" width="1" height="39.4" fill="#ef5350"/><rect x="1087" y="345.8" width="5" height="17.8" fill="#ef5350"/><rect x="1096" y="326" width="1" height="51.4" fill="#26a69a"/><rect x="1094" y="334" width="5" height="32.5" fill="#26a69a"/><rect x="1104" y="279.4" width="1" height="34.6" fill="#26a69a"/><rect x="1102" y="282" width="5" height="32" fill="#26a69a"/><rect x="1111" y="280.7" width="1" height="82.2" fill="#ef5350"/><rect x="1109" y="308.8" width="5" height="39.7" fill="#ef5350"/><rect x="1118" y="330.2" width="1" height="97.1" fill="#ef5350"/><rect x="1116" y="346" width="5" height="68.6" fill="#ef5350"/><rect x="1126" y="408.2" width="1" height="48.3" fill="#ef5350"/><rect x="1124" y="418.9" width="5" height="9.6" fill="#ef5350"/><rect x="1133" y="372.6" width="1" height="34.1" fill="#26a69a"/><rect x="1131" y="372.6" width="5" height="34.1" fill="#26a69a"/><rect x="1140" y="358.3" width="1" height="47.3" fill="#26a69a"/><rect x="1138" y="370" width="5" height="16.6" fill="#26a69a"/><rect x="1148" y="385" width="1" height="64.4" fill="#ef5350"/><rect x="1146" y="385" width="5" height="59.8" fill="#ef5350"/><rect x="1155" y="433.5" width="1" height="52.3" fill="#ef5350"/><rect x="1153" y="441.3" width="5" height="28.9" fill="#ef5350"/><rect x="1162" y="459" width="1" height="74.6" fill="#ef5350"/><rect x="1160" y="482.2" width="5" height="22" fill="#ef5350"/><rect x="1169" y="475.3" width="1" height="93.1" fill="#ef5350"/><rect x="1167" y="488" width="5" height="78.7" fill="#ef5350"/><rect x="1177" y="511.6" width="1" height="141.1" fill="#26a69a"/><rect x="1175" y="516.5" width="5" height="104.8" fill="#26a69a"/><rect x="1184" y="440.3" width="1" height="77.4" fill="#26a69a"/><rect x="1182" y="440.9" width="5" height="68.1" fill="#26a69a"/><rect x="1191" y="437.3" width="1" height="58.3" fill="#26a69a"/><rect x="1189" y="449" width="5" height="16.5" fill="#26a69a"/><rect x="1199" y="446.2" width="1" height="76.8" fill="#ef5350"/><rect x="1197" y="458" width="5" height="45.5" fill="#ef5350"/><rect x="1206" y="427.6" width="1" height="63" fill="#26a69a"/><rect x="1204" y="439.3" width="5" height="51.3" fill="#26a69a"/><rect x="1213" y="416.1" width="1" height="55" fill="#ef5350"/><rect x="1211" y="428" width="5" height="30.9" fill="#ef5350"/><rect x="1221" y="474.6" width="1" height="44.6" fill="#ef5350"/><rect x="1219" y="474.6" width="5" height="11" fill="#ef5350"/><rect x="1228" y="486" width="1" height="100.3" fill="#ef5350"/><rect x="1226" y="486" width="5" height="100.3" fill="#ef5350"/><rect x="1235" y="526.3" width="1" height="92" fill="#ef5350"/><rect x="1233" y="584" width="5" height="25.6" fill="#ef5350"/><rect x="1243" y="508.4" width="1" height="60.3" fill="#26a69a"/><rect x="1241" y="525.2" width="5" height="43.5" fill="#26a69a"/><rect x="1250" y="532.8" width="1" height="45.8" fill="#26a69a"/><rect x="1248" y="540" width="5" height="5.5" fill="#26a69a"/><rect x="1257" y="514.5" width="1" height="70.2" fill="#ef5350"/><rect x="1255" y="524.1" width="5" height="59.9" fill="#ef5350"/><rect x="1265" y="548.9" width="1" height="67.1" fill="#ef5350"/><rect x="1263" y="584" width="5" height="23.6" fill="#ef5350"/><rect x="1272" y="551.6" width="1" height="44.3" fill="#26a69a"/><rect x="1270" y="553.7" width="5" height="42.2" fill="#26a69a"/></g>
<rect x="11.2" y="32.7" width="1415.6" height="709.6" fill="none" stroke="#e2e3e8" stroke-width="1.5"/>
<rect x="1349" y="33" width="1" height="709" fill="#e2e3e8"/>
<rect x="11" y="708" width="1338" height="1" fill="#e2e3e8"/>
<rect x="1350" y="708" width="77" height="1" fill="#e2e3e8"/>
<g clip-path="url(#axis)"><text x="1361.3" y="709.5" font-size="15" fill="#131722" textLength="50" lengthAdjust="spacingAndGlyphs">4050.00</text><text x="1361.3" y="670.2" font-size="15" fill="#131722" textLength="50" lengthAdjust="spacingAndGlyphs">4100.00</text><text x="1361.3" y="630.9" font-size="15" fill="#131722" textLength="50" lengthAdjust="spacingAndGlyphs">4150.00</text><text x="1361.3" y="591.6" font-size="15" fill="#131722" textLength="50" lengthAdjust="spacingAndGlyphs">4200.00</text><text x="1361.3" y="552.3" font-size="15" fill="#131722" textLength="50" lengthAdjust="spacingAndGlyphs">4250.00</text><text x="1361.3" y="513" font-size="15" fill="#131722" textLength="50" lengthAdjust="spacingAndGlyphs">4300.00</text><text x="1361.3" y="473.7" font-size="15" fill="#131722" textLength="50" lengthAdjust="spacingAndGlyphs">4350.00</text><text x="1361.3" y="434.4" font-size="15" fill="#131722" textLength="50" lengthAdjust="spacingAndGlyphs">4400.00</text><text x="1361.3" y="395.1" font-size="15" fill="#131722" textLength="50" lengthAdjust="spacingAndGlyphs">4450.00</text><text x="1361.3" y="355.8" font-size="15" fill="#131722" textLength="50" lengthAdjust="spacingAndGlyphs">4500.00</text><text x="1361.3" y="316.5" font-size="15" fill="#131722" textLength="50" lengthAdjust="spacingAndGlyphs">4550.00</text><text x="1361.3" y="277.2" font-size="15" fill="#131722" textLength="50" lengthAdjust="spacingAndGlyphs">4600.00</text><text x="1361.3" y="237.9" font-size="15" fill="#131722" textLength="50" lengthAdjust="spacingAndGlyphs">4650.00</text><text x="1361.3" y="198.6" font-size="15" fill="#131722" textLength="50" lengthAdjust="spacingAndGlyphs">4700.00</text><text x="1361.3" y="159.3" font-size="15" fill="#131722" textLength="50" lengthAdjust="spacingAndGlyphs">4750.00</text><text x="1361.3" y="120" font-size="15" fill="#131722" textLength="50" lengthAdjust="spacingAndGlyphs">4800.00</text><text x="1361.3" y="80.7" font-size="15" fill="#131722" textLength="50" lengthAdjust="spacingAndGlyphs">4850.00</text><text x="1361.3" y="41.4" font-size="15" fill="#131722" textLength="50" lengthAdjust="spacingAndGlyphs">4900.00</text></g>
<text x="11.1" y="23.8" font-size="14" fill="#131722" textLength="63.9" lengthAdjust="spacingAndGlyphs">Published</text><text x="80.1" y="23.8" font-size="14" fill="#131722" textLength="17.2" lengthAdjust="spacingAndGlyphs">on</text><text x="102.3" y="23.8" font-size="14" fill="#131722" textLength="116.3" lengthAdjust="spacingAndGlyphs">TradingView.com,</text><text x="223" y="23.8" font-size="14" fill="#131722" textLength="25.5" lengthAdjust="spacingAndGlyphs">Mar</text><text x="254.3" y="23.8" font-size="14" fill="#131722" textLength="18.5" lengthAdjust="spacingAndGlyphs">15,</text><text x="277.9" y="23.8" font-size="14" fill="#131722" textLength="29.7" lengthAdjust="spacingAndGlyphs">2022</text><text x="312.6" y="23.8" font-size="14" fill="#131722" textLength="33.8" lengthAdjust="spacingAndGlyphs">15:49</text><text x="351.5" y="23.8" font-size="14" fill="#131722" textLength="26.9" lengthAdjust="spacingAndGlyphs">UTC</text><text x="20.8" y="57" font-size="14.5" fill="#131722" textLength="71.4" lengthAdjust="spacingAndGlyphs">SP:SPX, 1D</text><text x="101.2" y="57" font-size="14.5" fill="#131722" textLength="10.6" lengthAdjust="spacingAndGlyphs">O</text><text x="112.2" y="57" font-size="14.5" fill="#26a69a" textLength="49.1" lengthAdjust="spacingAndGlyphs">4188.82</text><text x="171" y="57" font-size="14.5" fill="#131722" textLength="9.5" lengthAdjust="spacingAndGlyphs">H</text><text x="180.5" y="57" font-size="14.5" fill="#26a69a" textLength="49.2" lengthAdjust="spacingAndGlyphs">4243.55</text><text x="238.8" y="57" font-size="14.5" fill="#131722" textLength="7.5" lengthAdjust="spacingAndGlyphs">L</text><text x="246.4" y="57" font-size="14.5" fill="#26a69a" textLength="49.1" lengthAdjust="spacingAndGlyphs">4187.90</text><text x="304.5" y="57" font-size="14.5" fill="#131722" textLength="9.3" lengthAdjust="spacingAndGlyphs">C</text><text x="313.9" y="57" font-size="14.5" fill="#26a69a" textLength="48.6" lengthAdjust="spacingAndGlyphs">4241.98</text><text x="372" y="57" font-size="14.5" fill="#26a69a" textLength="99.3" lengthAdjust="spacingAndGlyphs">+68.86 (+1.65%)</text><text x="20.8" y="77" font-size="14.5" fill="#131722" textLength="21" lengthAdjust="spacingAndGlyphs">Vol</text><text x="50.5" y="77" font-size="14.5" fill="#26a69a" textLength="32.5" lengthAdjust="spacingAndGlyphs">993M</text><text x="117.9" y="730.9" font-size="15" fill="#131722" textLength="24.9" lengthAdjust="spacingAndGlyphs">Aug</text><text x="278.9" y="730.9" font-size="15" fill="#131722" textLength="24.9" lengthAdjust="spacingAndGlyphs">Sep</text><text x="431.9" y="730.9" font-size="15" fill="#131722" textLength="26.3" lengthAdjust="spacingAndGlyphs">Oct</text><text x="586.5" y="730.9" font-size="15" fill="#131722" textLength="25.7" lengthAdjust="spacingAndGlyphs">Nov</text><text x="739.8" y="730.9" font-size="15" fill="#131722" textLength="24.1" lengthAdjust="spacingAndGlyphs">Dec</text><text x="896" y="730.9" font-size="15" fill="#131722" textLength="34.8" lengthAdjust="spacingAndGlyphs" font-weight="bold">2022</text><text x="1047.1" y="730.9" font-size="15" fill="#131722" textLength="24.5" lengthAdjust="spacingAndGlyphs">Feb</text><text x="1184.5" y="730.9" font-size="15" fill="#131722" textLength="26.8" lengthAdjust="spacingAndGlyphs">Mar</text><text x="1293.1" y="730.9" font-size="15" fill="#131722" textLength="15" lengthAdjust="spacingAndGlyphs">21</text>
<rect x="1371.7" y="42.7" width="33.4" height="19.6" rx="5" fill="#fff" stroke="#d1d4dc" stroke-width="1"/>
<text x="1375.6" y="55.9" font-size="14" fill="#131722" textLength="26" lengthAdjust="spacingAndGlyphs">USD</text>
<path d="M1349 543.8 H1419 a3 3 0 0 1 3 3 V578.5 a3 3 0 0 1 -3 3 H1349 Z" fill="#26a69a"/>
<text x="1361" y="559.3" font-size="14" fill="#fff" textLength="50.3" lengthAdjust="spacingAndGlyphs">4241.98</text>
<text x="1361" y="577" font-size="14" fill="#dff2ef" textLength="53.5" lengthAdjust="spacingAndGlyphs">04:20:01</text>
<path d="M1349 657.9 H1400.5 a2.5 2.5 0 0 1 2.5 2.5 V675.3 a2.5 2.5 0 0 1 -2.5 2.5 H1349 Z" fill="#26a69a"/>
<text x="1361.5" y="673.2" font-size="14" fill="#fff" textLength="33.2" lengthAdjust="spacingAndGlyphs">993M</text>
<g fill="#131722">
<path d="M11.3 757.9 H20.7 V769.8 H16.1 V762.2 H11.3 Z"/>
<circle cx="24.6" cy="760.3" r="2.35"/>
<path d="M29.5 757.9 H34.7 L30.3 769.8 H25.1 Z"/>
</g>
<text x="38.8" y="770.6" font-size="15" fill="#131722" textLength="87.2" lengthAdjust="spacingAndGlyphs">TradingView</text>
</svg>
</body></html>
